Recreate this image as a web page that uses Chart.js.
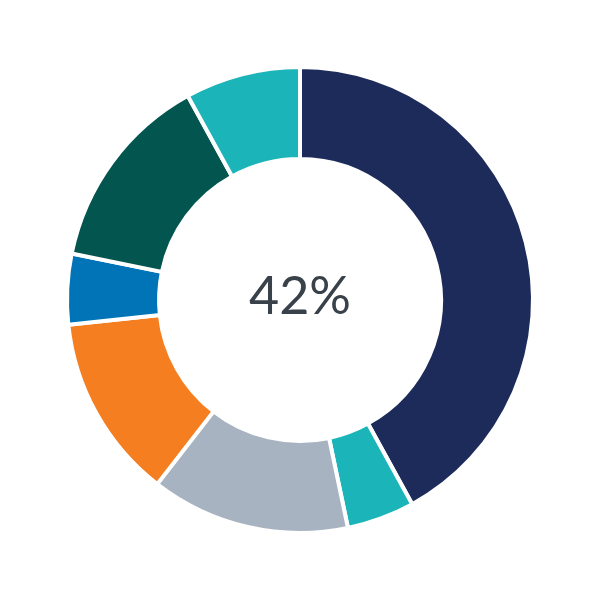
<!DOCTYPE html>
<html>
<head>
<meta charset="utf-8">
<script src="https://cdn.jsdelivr.net/npm/chart.js@4"></script>
<style>
  html, body { margin: 0; padding: 0; background: #fff; }
  .wrap { position: relative; width: 600px; height: 600px; }
  .center-label {
    position: absolute; left: 0; top: -6px; width: 600px; height: 600px;
    display: flex; align-items: center; justify-content: center;
    font-family: Lato, sans-serif; font-weight: 400; font-size: 52px;
    color: #39414a; pointer-events: none;
  }
</style>
</head>
<body>
<div class="wrap">
  <canvas id="donutChart" width="600" height="600"></canvas>
  <div class="center-label">42%</div>
</div>
<script>
var segments = ['A', 'B', 'C', 'D', 'E', 'F', 'G'];
var shares = [42, 4.7, 13.8, 12.8, 4.9, 13.8, 8.0];
var sliceColors = ['#1c2b5a', '#1bb4b8', '#a8b3c1', '#f47e20', '#0074b7', '#03554f', '#1bb4b8'];

var ctx = document.getElementById('donutChart');
new Chart(ctx, {
  type: 'doughnut',
  data: {
    labels: segments,
    datasets: [{
      data: shares,
      backgroundColor: sliceColors,
      borderColor: '#fff',
      borderWidth: 4
    }]
  },
  options: {
    responsive: false,
    animation: false,
    cutout: '60.5%',
    layout: { padding: 65 },
    plugins: {
      legend: { display: false },
      tooltip: { enabled: false }
    }
  }
});
</script>
</body>
</html>
